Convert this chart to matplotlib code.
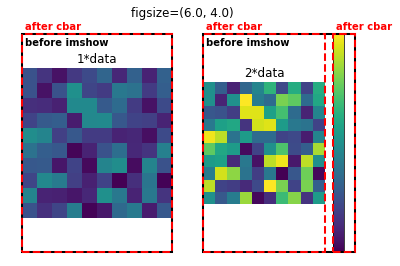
import numpy as np
import matplotlib
matplotlib.use("Agg")
import matplotlib.pyplot as plt
from matplotlib.patches import Rectangle
from matplotlib.colors import Normalize

# 10x10 values (0..1)
data = np.array([
    [0.50, 0.30, 0.10, 0.33, 0.45, 0.65, 0.22, 0.62, 0.20, 0.62],
    [0.50, 0.10, 0.50, 1.00, 0.42, 0.35, 0.80, 0.75, 0.35, 0.60],
    [0.27, 0.25, 0.18, 0.95, 0.95, 0.57, 0.70, 0.35, 0.10, 0.45],
    [0.40, 0.57, 0.60, 0.15, 0.93, 0.95, 0.55, 0.40, 0.38, 0.20],
    [0.98, 0.90, 0.38, 0.55, 0.35, 0.35, 0.20, 0.22, 0.08, 0.45],
    [0.75, 0.60, 0.55, 0.03, 0.20, 0.50, 0.72, 0.23, 0.30, 0.87],
    [0.55, 0.57, 0.12, 0.40, 0.05, 0.90, 0.98, 0.07, 0.90, 0.50],
    [0.42, 0.93, 0.83, 0.38, 0.18, 0.40, 0.00, 0.27, 0.78, 0.02],
    [0.90, 0.20, 0.18, 0.12, 0.22, 1.00, 0.80, 0.20, 0.80, 0.30],
    [0.50, 0.28, 0.42, 0.85, 0.02, 0.13, 0.68, 0.82, 0.15, 0.55],
])
scales = [1, 2]
titles = ["1*data", "2*data"]


def draw_box(fig, pos, color, lw, ls, label=None, label_pos="above"):
    x0, y0, w, h = pos
    fig.add_artist(Rectangle((x0, y0), w, h, transform=fig.transFigure,
                             fill=False, edgecolor=color, lw=lw, ls=ls))
    if label is None:
        return
    if label_pos == "above":
        fig.text(x0 + 0.008, y0 + h + 0.012, label, color=color,
                 fontsize=10.8, fontweight="bold", va="bottom", ha="left")
    else:
        fig.text(x0 + 0.008, y0 + h - 0.011, label, color=color,
                 fontsize=10.8, fontweight="bold", va="top", ha="left")


fig = plt.figure(figsize=(6.0, 4.0), dpi=400 / 6)
fig.text(0.455, 0.951, "figsize=(6.0, 4.0)", ha="center", va="center", fontsize=12.8)

bottom, height = 0.053, 0.816
left_pos = [0.055, bottom, 0.375, height]
right_before = [0.508, bottom, 0.38, height]
right_after = [0.508, bottom, 0.305, height]
cax_pos = [0.8325, bottom, 0.055, height]

norm = Normalize(vmin=0, vmax=2)

ax1 = fig.add_axes(left_pos)
draw_box(fig, left_pos, "k", 2.2, "-", "before imshow", label_pos="inside")
ax1.imshow(scales[0] * data, cmap="viridis", norm=norm)
ax1.set_title(titles[0], fontsize=12.8)
ax1.set_axis_off()

ax2 = fig.add_axes(right_after)
draw_box(fig, right_before, "k", 2.2, "-", "before imshow", label_pos="inside")
im = ax2.imshow(scales[1] * data, cmap="viridis", norm=norm)
ax2.set_title(titles[1], fontsize=12.8)
ax2.set_axis_off()

cax = fig.add_axes(cax_pos)
cb = fig.colorbar(im, cax=cax)
cb.set_ticks([])
cax.set_box_aspect(20)
cax.set_anchor("W")

draw_box(fig, left_pos, "red", 2.2, "--", "after cbar")
draw_box(fig, right_after, "red", 2.2, "--", "after cbar")
draw_box(fig, cax_pos, "red", 2.2, "--", "after cbar")

fig.savefig("out.png", dpi=400 / 6)
